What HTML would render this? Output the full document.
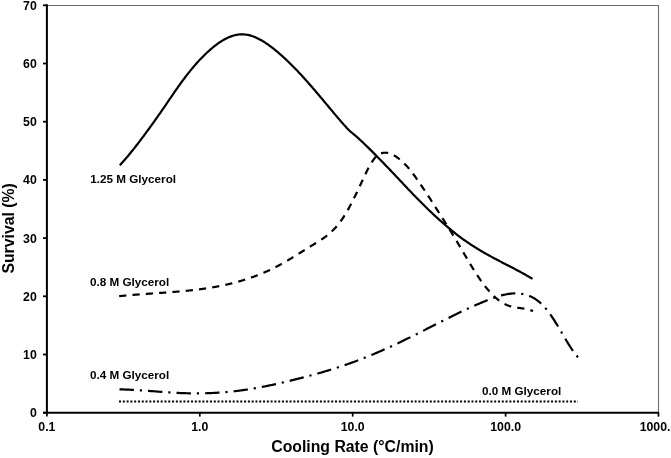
<!DOCTYPE html>
<html><head><meta charset="utf-8"><title>Survival vs Cooling Rate</title>
<style>html,body{margin:0;padding:0;background:#fff;overflow:hidden;width:671px;height:458px}svg{display:block}</style>
</head><body>
<svg width="671" height="458" viewBox="0 0 671 458">
<rect width="671" height="458" fill="#fff"/>
<path d="M46.9,5.5 H658.5 V412.7" fill="none" stroke="#6c6c6c" stroke-width="1.1"/>
<path d="M46.9,4.3 V413.7" stroke="#000" stroke-width="2"/>
<path d="M43,412.7 H659" stroke="#000" stroke-width="2"/>
<path d="M43,412.70 H47" stroke="#000" stroke-width="1.8"/>
<path d="M43,354.50 H47" stroke="#000" stroke-width="1.8"/>
<path d="M43,296.30 H47" stroke="#000" stroke-width="1.8"/>
<path d="M43,238.10 H47" stroke="#000" stroke-width="1.8"/>
<path d="M43,179.90 H47" stroke="#000" stroke-width="1.8"/>
<path d="M43,121.70 H47" stroke="#000" stroke-width="1.8"/>
<path d="M43,63.50 H47" stroke="#000" stroke-width="1.8"/>
<path d="M43,5.30 H47" stroke="#000" stroke-width="1.8"/>
<path d="M46.90,412.7 V416.6" stroke="#000" stroke-width="1.7"/>
<path d="M199.80,412.7 V416.6" stroke="#000" stroke-width="1.7"/>
<path d="M352.70,412.7 V416.6" stroke="#000" stroke-width="1.7"/>
<path d="M505.60,412.7 V416.6" stroke="#000" stroke-width="1.7"/>
<path d="M658.50,412.7 V416.6" stroke="#000" stroke-width="1.7"/>
<text x="36.8" y="417.10" text-anchor="end" font-family="Liberation Sans, Arial, sans-serif" font-weight="bold" font-size="12.3">0</text>
<text x="36.8" y="358.90" text-anchor="end" font-family="Liberation Sans, Arial, sans-serif" font-weight="bold" font-size="12.3">10</text>
<text x="36.8" y="300.70" text-anchor="end" font-family="Liberation Sans, Arial, sans-serif" font-weight="bold" font-size="12.3">20</text>
<text x="36.8" y="242.50" text-anchor="end" font-family="Liberation Sans, Arial, sans-serif" font-weight="bold" font-size="12.3">30</text>
<text x="36.8" y="184.30" text-anchor="end" font-family="Liberation Sans, Arial, sans-serif" font-weight="bold" font-size="12.3">40</text>
<text x="36.8" y="126.10" text-anchor="end" font-family="Liberation Sans, Arial, sans-serif" font-weight="bold" font-size="12.3">50</text>
<text x="36.8" y="67.90" text-anchor="end" font-family="Liberation Sans, Arial, sans-serif" font-weight="bold" font-size="12.3">60</text>
<text x="36.8" y="9.70" text-anchor="end" font-family="Liberation Sans, Arial, sans-serif" font-weight="bold" font-size="12.3">70</text>
<text x="46.90" y="431.2" text-anchor="middle" font-family="Liberation Sans, Arial, sans-serif" font-weight="bold" font-size="12.3">0.1</text>
<text x="199.80" y="431.2" text-anchor="middle" font-family="Liberation Sans, Arial, sans-serif" font-weight="bold" font-size="12.3">1.0</text>
<text x="352.70" y="431.2" text-anchor="middle" font-family="Liberation Sans, Arial, sans-serif" font-weight="bold" font-size="12.3">10.0</text>
<text x="505.60" y="431.2" text-anchor="middle" font-family="Liberation Sans, Arial, sans-serif" font-weight="bold" font-size="12.3">100.0</text>
<text x="658.50" y="431.2" text-anchor="middle" font-family="Liberation Sans, Arial, sans-serif" font-weight="bold" font-size="12.3">1000.0</text>
<text x="352.5" y="452.3" text-anchor="middle" font-family="Liberation Sans, Arial, sans-serif" font-weight="bold" font-size="15.8">Cooling Rate (°C/min)</text>
<text transform="translate(14.3,228.4) rotate(-90)" x="0" y="0" text-anchor="middle" font-family="Liberation Sans, Arial, sans-serif" font-weight="bold" font-size="15.8">Survival (%)</text>
<text x="90.3" y="182.5" font-family="Liberation Sans, Arial, sans-serif" font-weight="bold" font-size="11.7">1.25 M Glycerol</text>
<text x="90.0" y="285.6" font-family="Liberation Sans, Arial, sans-serif" font-weight="bold" font-size="11.7">0.8 M Glycerol</text>
<text x="90.0" y="378.8" font-family="Liberation Sans, Arial, sans-serif" font-weight="bold" font-size="11.7">0.4 M Glycerol</text>
<text x="561.3" y="394.8" text-anchor="end" font-family="Liberation Sans, Arial, sans-serif" font-weight="bold" font-size="11.7">0.0 M Glycerol</text>
<g fill="none" stroke="#000" stroke-width="2.2">
<path d="M119.80,165.30 L120.80,164.21 L121.80,163.10 L122.80,161.97 L123.80,160.84 L124.80,159.69 L125.80,158.53 L126.80,157.36 L127.80,156.17 L128.80,154.97 L129.80,153.76 L130.80,152.54 L131.80,151.31 L132.80,150.07 L133.80,148.82 L134.80,147.56 L135.80,146.28 L136.80,145.00 L137.80,143.71 L138.80,142.41 L139.80,141.10 L140.80,139.78 L141.80,138.46 L142.80,137.13 L143.80,135.78 L144.80,134.44 L145.80,133.08 L146.80,131.72 L147.80,130.35 L148.80,128.98 L149.80,127.60 L150.80,126.21 L151.80,124.82 L152.80,123.43 L153.80,122.03 L154.80,120.62 L155.80,119.21 L156.80,117.80 L157.80,116.38 L158.80,114.96 L159.80,113.53 L160.80,112.09 L161.80,110.65 L162.80,109.21 L163.80,107.76 L164.80,106.30 L165.80,104.84 L166.80,103.38 L167.80,101.91 L168.80,100.44 L169.80,98.97 L170.80,97.50 L171.80,96.03 L172.80,94.57 L173.80,93.11 L174.80,91.65 L175.80,90.20 L176.80,88.77 L177.80,87.34 L178.80,85.92 L179.80,84.52 L180.80,83.13 L181.80,81.76 L182.80,80.40 L183.80,79.06 L184.80,77.73 L185.80,76.42 L186.80,75.12 L187.80,73.84 L188.80,72.58 L189.80,71.33 L190.80,70.10 L191.80,68.89 L192.80,67.69 L193.80,66.51 L194.80,65.35 L195.80,64.20 L196.80,63.07 L197.80,61.96 L198.80,60.87 L199.80,59.79 L200.80,58.74 L201.80,57.70 L202.80,56.68 L203.80,55.68 L204.80,54.69 L205.80,53.73 L206.80,52.78 L207.80,51.85 L208.80,50.94 L209.80,50.06 L210.80,49.19 L211.80,48.34 L212.80,47.51 L213.80,46.70 L214.80,45.91 L215.80,45.14 L216.80,44.39 L217.80,43.67 L218.80,42.96 L219.80,42.28 L220.80,41.63 L221.80,40.99 L222.80,40.39 L223.80,39.80 L224.80,39.25 L225.80,38.72 L226.80,38.22 L227.80,37.74 L228.80,37.30 L229.80,36.88 L230.80,36.49 L231.80,36.13 L232.80,35.81 L233.80,35.51 L234.80,35.25 L235.80,35.01 L236.80,34.82 L237.80,34.65 L238.80,34.52 L239.80,34.42 L240.80,34.36 L241.80,34.34 L242.80,34.35 L243.80,34.40 L244.80,34.48 L245.80,34.60 L246.80,34.75 L247.80,34.93 L248.80,35.15 L249.80,35.40 L250.80,35.67 L251.80,35.98 L252.80,36.32 L253.80,36.69 L254.80,37.08 L255.80,37.50 L256.80,37.95 L257.80,38.42 L258.80,38.92 L259.80,39.45 L260.80,39.99 L261.80,40.56 L262.80,41.16 L263.80,41.77 L264.80,42.40 L265.80,43.06 L266.80,43.73 L267.80,44.42 L268.80,45.13 L269.80,45.86 L270.80,46.61 L271.80,47.36 L272.80,48.14 L273.80,48.93 L274.80,49.73 L275.80,50.55 L276.80,51.37 L277.80,52.21 L278.80,53.07 L279.80,53.93 L280.80,54.81 L281.80,55.69 L282.80,56.59 L283.80,57.50 L284.80,58.42 L285.80,59.36 L286.80,60.30 L287.80,61.25 L288.80,62.21 L289.80,63.19 L290.80,64.17 L291.80,65.17 L292.80,66.17 L293.80,67.18 L294.80,68.20 L295.80,69.23 L296.80,70.27 L297.80,71.32 L298.80,72.38 L299.80,73.45 L300.80,74.52 L301.80,75.60 L302.80,76.69 L303.80,77.79 L304.80,78.90 L305.80,80.01 L306.80,81.13 L307.80,82.26 L308.80,83.40 L309.80,84.54 L310.80,85.68 L311.80,86.84 L312.80,88.00 L313.80,89.16 L314.80,90.33 L315.80,91.50 L316.80,92.68 L317.80,93.86 L318.80,95.05 L319.80,96.24 L320.80,97.43 L321.80,98.62 L322.80,99.81 L323.80,101.01 L324.80,102.21 L325.80,103.40 L326.80,104.60 L327.80,105.80 L328.80,107.00 L329.80,108.19 L330.80,109.39 L331.80,110.58 L332.80,111.78 L333.80,112.97 L334.80,114.15 L335.80,115.34 L336.80,116.52 L337.80,117.70 L338.80,118.87 L339.80,120.04 L340.80,121.20 L341.80,122.35 L342.80,123.50 L343.80,124.62 L344.80,125.73 L345.80,126.82 L346.80,127.89 L347.80,128.93 L348.80,129.95 L349.80,130.93 L350.50,131.60 L351.50,132.41 L352.50,133.24 L353.50,134.07 L354.50,134.92 L355.50,135.78 L356.50,136.66 L357.50,137.54 L358.50,138.44 L359.50,139.34 L360.50,140.26 L361.50,141.18 L362.50,142.12 L363.50,143.06 L364.50,144.01 L365.50,144.97 L366.50,145.94 L367.50,146.91 L368.50,147.89 L369.50,148.88 L370.50,149.87 L371.50,150.86 L372.50,151.86 L373.50,152.87 L374.50,153.88 L375.50,154.89 L376.50,155.91 L377.50,156.92 L378.50,157.94 L379.50,158.97 L380.50,159.99 L381.50,161.02 L382.50,162.05 L383.50,163.08 L384.50,164.11 L385.50,165.15 L386.50,166.19 L387.50,167.23 L388.50,168.27 L389.50,169.32 L390.50,170.37 L391.50,171.42 L392.50,172.47 L393.50,173.52 L394.50,174.58 L395.50,175.64 L396.50,176.70 L397.50,177.76 L398.50,178.82 L399.50,179.89 L400.50,180.96 L401.50,182.02 L402.50,183.09 L403.50,184.16 L404.50,185.23 L405.50,186.29 L406.50,187.35 L407.50,188.41 L408.50,189.47 L409.50,190.52 L410.50,191.57 L411.50,192.61 L412.50,193.65 L413.50,194.69 L414.50,195.72 L415.50,196.75 L416.50,197.77 L417.50,198.79 L418.50,199.81 L419.50,200.82 L420.50,201.83 L421.50,202.83 L422.50,203.83 L423.50,204.82 L424.50,205.81 L425.50,206.79 L426.50,207.77 L427.50,208.74 L428.50,209.71 L429.50,210.67 L430.50,211.62 L431.50,212.57 L432.50,213.52 L433.50,214.46 L434.50,215.39 L435.50,216.32 L436.50,217.24 L437.50,218.16 L438.50,219.06 L439.50,219.97 L440.50,220.86 L441.50,221.75 L442.50,222.64 L443.50,223.52 L444.50,224.39 L445.50,225.25 L446.50,226.11 L447.50,226.96 L448.50,227.80 L449.50,228.63 L450.50,229.46 L451.50,230.28 L452.50,231.10 L453.50,231.90 L454.50,232.70 L455.50,233.49 L456.50,234.27 L457.50,235.05 L458.50,235.82 L459.50,236.57 L460.50,237.32 L461.50,238.07 L462.50,238.80 L463.50,239.53 L464.50,240.24 L465.50,240.95 L466.50,241.65 L467.50,242.34 L468.50,243.03 L469.50,243.70 L470.50,244.36 L471.50,245.02 L472.50,245.66 L473.50,246.30 L474.50,246.93 L475.10,247.30 L476.10,247.93 L477.10,248.55 L478.10,249.16 L479.10,249.77 L480.10,250.37 L481.10,250.96 L482.10,251.55 L483.10,252.13 L484.10,252.71 L485.10,253.28 L486.10,253.84 L487.10,254.40 L488.10,254.96 L489.10,255.51 L490.10,256.06 L491.10,256.60 L492.10,257.14 L493.10,257.68 L494.10,258.21 L495.10,258.74 L496.10,259.27 L497.10,259.80 L498.10,260.32 L499.10,260.84 L500.10,261.36 L501.10,261.88 L502.10,262.40 L503.10,262.92 L504.10,263.43 L505.10,263.95 L506.10,264.46 L507.10,264.98 L508.10,265.50 L509.10,266.01 L510.10,266.53 L511.10,267.05 L512.10,267.57 L513.10,268.09 L514.10,268.62 L515.10,269.14 L516.10,269.67 L517.10,270.20 L518.10,270.74 L519.10,271.27 L520.10,271.81 L521.10,272.36 L522.10,272.90 L523.10,273.46 L524.10,274.01 L525.10,274.57 L526.10,275.14 L527.10,275.71 L528.10,276.29 L529.10,276.87 L530.10,277.46 L531.10,278.05 L532.10,278.65 L532.50,278.89"/>
<path d="M119.20,296.18 L119.70,296.12 L120.20,296.07 L120.70,296.02 L121.20,295.97 L121.70,295.92 L122.20,295.87 L122.70,295.82 L123.20,295.77 L123.70,295.72 L124.20,295.67 L124.70,295.62 L125.20,295.58 L125.70,295.53 L126.20,295.48 L126.70,295.44 L127.20,295.39 L127.70,295.35 L128.20,295.30 L128.70,295.26 L129.20,295.21 L129.70,295.17 L130.20,295.13 L130.70,295.08 L131.20,295.04 L131.70,295.00 L132.20,294.96 L132.70,294.91 L133.20,294.87 L133.70,294.83 L134.20,294.79 L134.70,294.75 L135.20,294.71 L135.70,294.67 L136.20,294.63 L136.70,294.59 L137.20,294.55 L137.70,294.52 L138.20,294.48 L138.70,294.44 L139.20,294.40 L139.70,294.36 L140.20,294.33 L140.70,294.29 L141.20,294.25 L141.70,294.22 L142.20,294.18 L142.70,294.14 L143.20,294.11 L143.70,294.07 L144.20,294.03 L144.70,294.00 L145.20,293.96 L145.70,293.93 L146.20,293.89 L146.70,293.86 L147.20,293.82 L147.70,293.79 L148.20,293.75 L148.70,293.72 L149.20,293.68 L149.70,293.65 L150.20,293.61 L150.70,293.58 L151.20,293.54 L151.70,293.51 L152.20,293.48 L152.70,293.44 L153.20,293.41 L153.70,293.37 L154.20,293.34 L154.70,293.31 L155.20,293.27 L155.70,293.24 L156.20,293.20 L156.70,293.17 L157.20,293.13 L157.70,293.10 L158.20,293.07 L158.70,293.03 L159.20,293.00 L159.70,292.96 L160.20,292.93 L160.70,292.89 L161.20,292.86 L161.70,292.82 L162.20,292.79 L162.70,292.75 L163.20,292.72 L163.70,292.68 L164.20,292.65 L164.70,292.61 L165.20,292.57 L165.70,292.54 L166.20,292.50 L166.70,292.47 L167.20,292.43 L167.70,292.39 L168.20,292.36 L168.70,292.32 L169.20,292.28 L169.70,292.24 L170.20,292.21 L170.70,292.17 L171.20,292.13 L171.70,292.09 L172.20,292.05 L172.70,292.01 L173.20,291.97 L173.70,291.93 L174.20,291.89 L174.70,291.85 L175.20,291.81 L175.70,291.77 L176.20,291.73 L176.70,291.69 L177.20,291.65 L177.70,291.61 L178.20,291.56 L178.70,291.52 L179.20,291.48 L179.70,291.43 L180.20,291.39 L180.70,291.34 L181.20,291.30 L181.70,291.25 L182.20,291.21 L182.70,291.16 L183.20,291.12 L183.70,291.07 L184.20,291.02 L184.70,290.97 L185.20,290.93 L185.70,290.88 L186.20,290.83 L186.70,290.78 L187.20,290.73 L187.70,290.68 L188.20,290.63 L188.70,290.58 L189.20,290.52 L189.70,290.47 L190.20,290.42 L190.70,290.36 L191.20,290.31 L191.70,290.25 L192.20,290.20 L192.70,290.14 L193.20,290.09 L193.70,290.03 L194.20,289.97 L194.70,289.91 L195.20,289.85 L195.70,289.79 L196.20,289.73 L196.70,289.67 L197.20,289.61 L197.70,289.55 L198.20,289.49 L198.70,289.42 L199.20,289.36 L199.70,289.29 L200.20,289.23 L200.70,289.16 L201.20,289.10 L201.70,289.03 L202.20,288.96 L202.70,288.89 L203.20,288.82 L203.70,288.75 L204.20,288.68 L204.70,288.61 L205.20,288.53 L205.70,288.46 L206.20,288.39 L206.70,288.31 L207.20,288.24 L207.70,288.16 L208.20,288.08 L208.70,288.00 L209.20,287.92 L209.70,287.84 L210.20,287.76 L210.70,287.68 L211.20,287.60 L211.70,287.52 L212.20,287.43 L212.70,287.35 L213.20,287.26 L213.70,287.17 L214.20,287.09 L214.70,287.00 L215.20,286.91 L215.70,286.82 L216.20,286.73 L216.70,286.63 L217.20,286.54 L217.70,286.45 L218.20,286.35 L218.70,286.26 L219.20,286.16 L219.70,286.06 L220.20,285.96 L220.70,285.86 L221.20,285.76 L221.70,285.66 L222.20,285.55 L222.70,285.45 L223.20,285.35 L223.70,285.24 L224.20,285.13 L224.70,285.02 L225.20,284.91 L225.70,284.80 L226.20,284.69 L226.70,284.58 L227.20,284.47 L227.70,284.35 L228.20,284.24 L228.70,284.12 L229.20,284.00 L229.70,283.88 L230.20,283.76 L230.70,283.64 L231.20,283.52 L231.70,283.39 L232.20,283.27 L232.70,283.14 L233.20,283.01 L233.70,282.89 L234.20,282.76 L234.70,282.63 L235.20,282.49 L235.70,282.36 L236.20,282.23 L236.70,282.09 L237.20,281.95 L237.70,281.81 L238.20,281.67 L238.70,281.53 L239.20,281.39 L239.70,281.25 L240.20,281.10 L240.70,280.96 L241.20,280.81 L241.70,280.66 L242.20,280.51 L242.70,280.36 L243.20,280.21 L243.70,280.05 L244.20,279.90 L244.70,279.74 L245.20,279.58 L245.70,279.42 L246.20,279.26 L246.70,279.10 L247.20,278.94 L247.70,278.77 L248.20,278.61 L248.70,278.44 L249.20,278.27 L249.70,278.10 L250.20,277.93 L250.70,277.75 L251.20,277.58 L251.70,277.40 L252.20,277.22 L252.70,277.04 L253.20,276.86 L253.70,276.68 L254.20,276.50 L254.70,276.31 L255.20,276.12 L255.70,275.94 L256.20,275.75 L256.70,275.55 L257.20,275.36 L257.70,275.17 L258.20,274.97 L258.70,274.77 L259.20,274.57 L259.70,274.37 L260.20,274.17 L260.70,273.97 L261.20,273.76 L261.70,273.55 L262.20,273.34 L262.70,273.13 L263.20,272.92 L263.70,272.71 L264.20,272.49 L264.70,272.27 L265.20,272.06 L265.70,271.84 L266.20,271.61 L266.70,271.39 L267.20,271.16 L267.70,270.94 L268.20,270.71 L268.70,270.48 L269.20,270.24 L269.70,270.01 L270.20,269.77 L270.70,269.54 L271.20,269.30 L271.70,269.06 L272.20,268.81 L272.70,268.57 L273.20,268.32 L273.70,268.07 L274.20,267.82 L274.70,267.57 L275.20,267.32 L275.70,267.06 L276.20,266.80 L276.70,266.55 L277.20,266.28 L277.70,266.02 L278.20,265.76 L278.70,265.49 L279.20,265.22 L279.70,264.95 L280.20,264.68 L280.70,264.40 L281.20,264.13 L281.70,263.85 L282.20,263.57 L282.70,263.29 L283.20,263.01 L283.70,262.73 L284.20,262.44 L284.70,262.16 L285.20,261.87 L285.70,261.58 L286.20,261.29 L286.70,261.00 L287.20,260.70 L287.70,260.41 L288.20,260.11 L288.70,259.82 L289.20,259.52 L289.70,259.22 L290.20,258.92 L290.70,258.62 L291.20,258.32 L291.70,258.01 L292.20,257.71 L292.70,257.41 L293.20,257.10 L293.70,256.80 L294.20,256.49 L294.70,256.18 L295.20,255.87 L295.70,255.57 L296.20,255.26 L296.70,254.95 L297.20,254.64 L297.70,254.33 L298.20,254.02 L298.70,253.70 L299.20,253.39 L299.70,253.08 L300.20,252.77 L300.70,252.46 L301.20,252.14 L301.70,251.83 L302.20,251.52 L302.70,251.21 L303.20,250.89 L303.70,250.58 L304.20,250.27 L304.70,249.95 L305.20,249.64 L305.70,249.33 L306.20,249.02 L306.70,248.71 L307.20,248.39 L307.70,248.08 L308.20,247.77 L308.70,247.46 L309.20,247.15 L309.70,246.84 L310.20,246.53 L310.70,246.22 L311.20,245.92 L311.70,245.61 L312.20,245.30 L312.70,244.99 L313.20,244.69 L313.70,244.38 L314.20,244.08 L314.70,243.78 L315.20,243.47 L315.70,243.17 L316.20,242.86 L316.70,242.55 L317.20,242.25 L317.70,241.94 L318.20,241.62 L318.70,241.31 L319.20,240.99 L319.70,240.68 L320.20,240.35 L320.70,240.03 L321.20,239.70 L321.70,239.37 L322.20,239.03 L322.70,238.69 L323.20,238.34 L323.70,237.99 L324.20,237.64 L324.70,237.28 L325.20,236.91 L325.70,236.54 L326.20,236.16 L326.70,235.77 L327.20,235.38 L327.70,234.98 L328.20,234.57 L328.70,234.16 L329.20,233.74 L329.70,233.31 L330.20,232.87 L330.70,232.42 L331.20,231.96 L331.70,231.50 L332.20,231.02 L332.70,230.53 L333.20,230.04 L333.70,229.53 L334.20,229.02 L334.70,228.49 L335.20,227.95 L335.70,227.40 L336.20,226.84 L336.70,226.26 L337.20,225.68 L337.70,225.08 L338.20,224.47 L338.70,223.84 L339.20,223.20 L339.70,222.55 L340.20,221.88 L340.70,221.20 L341.20,220.51 L341.70,219.80 L342.20,219.07 L342.70,218.33 L343.20,217.58 L343.70,216.81 L344.20,216.03 L344.70,215.23 L345.20,214.41 L345.70,213.59 L346.20,212.75 L346.70,211.90 L347.20,211.03 L347.70,210.15 L348.20,209.27 L348.70,208.36 L349.20,207.45 L349.70,206.53 L350.20,205.60 L350.70,204.66 L351.20,203.70 L351.70,202.74 L352.20,201.77 L352.70,200.79 L353.20,199.80 L353.70,198.80 L354.20,197.80 L354.70,196.79 L355.20,195.77 L355.70,194.74 L356.20,193.71 L356.70,192.67 L357.20,191.63 L357.70,190.58 L358.20,189.52 L358.70,188.47 L359.20,187.40 L359.70,186.33 L360.20,185.26 L360.70,184.19 L361.20,183.11 L361.70,182.03 L362.20,180.95 L362.70,179.88 L363.20,178.80 L363.70,177.73 L364.20,176.66 L364.70,175.61 L365.20,174.56 L365.70,173.52 L366.20,172.49 L366.70,171.47 L367.20,170.47 L367.70,169.48 L368.20,168.51 L368.70,167.56 L369.20,166.63 L369.70,165.72 L370.20,164.83 L370.70,163.97 L371.20,163.13 L371.70,162.32 L372.20,161.54 L372.70,160.78 L373.20,160.06 L373.70,159.37 L374.20,158.72 L374.70,158.10 L375.20,157.52 L375.70,156.98 L376.20,156.47 L376.70,156.01 L377.20,155.58 L377.70,155.18 L378.20,154.83 L378.70,154.50 L379.20,154.21 L379.70,153.95 L380.20,153.71 L380.70,153.51 L381.20,153.33 L381.70,153.18 L382.20,153.05 L382.70,152.95 L383.20,152.86 L383.70,152.80 L384.20,152.76 L384.70,152.73 L385.20,152.72 L385.70,152.73 L386.20,152.75 L386.70,152.79 L387.20,152.85 L387.70,152.92 L388.20,153.02 L388.70,153.13 L389.20,153.25 L389.70,153.40 L390.20,153.56 L390.70,153.74 L391.20,153.94 L391.70,154.15 L392.20,154.38 L392.70,154.63 L393.20,154.89 L393.70,155.17 L394.20,155.46 L394.70,155.76 L395.20,156.08 L395.70,156.40 L396.20,156.74 L396.70,157.09 L397.20,157.46 L397.70,157.83 L398.20,158.21 L398.70,158.60 L399.20,159.00 L399.70,159.40 L400.20,159.82 L400.70,160.24 L401.20,160.67 L401.70,161.11 L402.20,161.55 L402.70,162.01 L403.20,162.47 L403.70,162.95 L404.20,163.43 L404.70,163.93 L405.20,164.43 L405.70,164.95 L406.20,165.48 L406.70,166.01 L407.20,166.56 L407.70,167.12 L408.20,167.69 L408.70,168.27 L409.20,168.87 L409.70,169.47 L410.20,170.09 L410.70,170.72 L411.20,171.35 L411.70,172.00 L412.20,172.65 L412.70,173.31 L413.20,173.98 L413.70,174.65 L414.20,175.34 L414.70,176.02 L415.20,176.71 L415.70,177.41 L416.20,178.10 L416.70,178.81 L417.20,179.51 L417.70,180.22 L418.20,180.94 L418.70,181.66 L419.20,182.38 L419.70,183.10 L420.20,183.83 L420.70,184.56 L421.20,185.30 L421.70,186.03 L422.20,186.77 L422.70,187.52 L423.20,188.26 L423.70,189.01 L424.20,189.76 L424.70,190.52 L425.20,191.27 L425.70,192.03 L426.20,192.79 L426.70,193.56 L427.20,194.32 L427.70,195.09 L428.20,195.86 L428.70,196.63 L429.20,197.40 L429.70,198.17 L430.20,198.95 L430.70,199.72 L431.20,200.50 L431.70,201.28 L432.20,202.06 L432.70,202.84 L433.20,203.62 L433.70,204.40 L434.20,205.19 L434.70,205.97 L435.20,206.76 L435.70,207.54 L436.20,208.32 L436.70,209.11 L437.20,209.89 L437.70,210.68 L438.20,211.47 L438.70,212.25 L439.20,213.04 L439.70,213.82 L440.20,214.61 L440.70,215.40 L441.20,216.18 L441.70,216.97 L442.20,217.76 L442.70,218.55 L443.20,219.34 L443.70,220.13 L444.20,220.92 L444.70,221.71 L445.20,222.50 L445.70,223.30 L446.20,224.09 L446.70,224.89 L447.20,225.69 L447.70,226.48 L448.20,227.28 L448.70,228.09 L449.20,228.89 L449.70,229.69 L450.20,230.50 L450.70,231.31 L451.20,232.11 L451.70,232.92 L452.20,233.74 L452.70,234.55 L453.20,235.37 L453.70,236.19 L454.20,237.01 L454.70,237.83 L455.20,238.65 L455.70,239.48 L456.20,240.31 L456.70,241.14 L457.20,241.98 L457.70,242.81 L458.20,243.65 L458.70,244.49 L459.20,245.34 L459.70,246.18 L460.20,247.03 L460.70,247.88 L461.20,248.73 L461.70,249.58 L462.20,250.44 L462.70,251.29 L463.20,252.14 L463.70,253.00 L464.20,253.85 L464.70,254.71 L465.20,255.56 L465.70,256.41 L466.20,257.26 L466.70,258.11 L467.20,258.96 L467.70,259.81 L468.20,260.65 L468.70,261.49 L469.20,262.33 L469.70,263.17 L470.20,264.00 L470.70,264.83 L471.20,265.66 L471.70,266.48 L472.20,267.30 L472.70,268.12 L473.20,268.92 L473.70,269.73 L474.20,270.53 L474.70,271.32 L475.20,272.11 L475.70,272.89 L476.20,273.67 L476.70,274.44 L477.20,275.21 L477.70,275.96 L478.20,276.71 L478.70,277.45 L479.20,278.19 L479.70,278.92 L480.20,279.63 L480.70,280.35 L481.20,281.05 L481.70,281.74 L482.20,282.43 L482.70,283.11 L483.20,283.78 L483.70,284.44 L484.20,285.10 L484.70,285.74 L485.20,286.38 L485.70,287.01 L486.20,287.63 L486.70,288.24 L487.20,288.84 L487.70,289.43 L488.20,290.02 L488.70,290.59 L489.20,291.16 L489.70,291.72 L490.20,292.27 L490.70,292.81 L491.20,293.34 L491.70,293.86 L492.20,294.37 L492.70,294.88 L493.20,295.37 L493.70,295.86 L494.20,296.33 L494.70,296.80 L495.20,297.25 L495.70,297.70 L496.20,298.14 L496.70,298.56 L497.20,298.98 L497.70,299.39 L498.20,299.79 L498.70,300.18 L499.20,300.55 L499.70,300.92 L500.20,301.28 L500.70,301.63 L501.20,301.96 L501.70,302.29 L502.20,302.61 L502.70,302.91 L503.20,303.21 L503.70,303.50 L504.20,303.77 L504.70,304.04 L505.20,304.29 L505.70,304.53 L506.20,304.77 L506.70,304.99 L507.20,305.20 L507.70,305.40 L508.20,305.59 L508.70,305.77 L509.20,305.94 L509.70,306.10 L510.20,306.25 L510.70,306.39 L511.20,306.53 L511.70,306.65 L512.20,306.77 L512.70,306.89 L513.20,306.99 L513.70,307.10 L514.20,307.19 L514.70,307.28 L515.20,307.37 L515.70,307.45 L516.20,307.53 L516.70,307.61 L517.20,307.68 L517.70,307.75 L518.20,307.82 L518.70,307.89 L519.20,307.95 L519.70,308.02 L520.20,308.09 L520.70,308.15 L521.20,308.22 L521.70,308.29 L522.20,308.36 L522.70,308.43 L523.20,308.50 L523.70,308.58 L524.20,308.66 L524.70,308.75 L525.20,308.84 L525.70,308.93 L526.20,309.03 L526.70,309.14 L527.20,309.25 L527.70,309.37 L528.20,309.49 L528.70,309.62 L529.20,309.76 L529.70,309.91 L530.20,310.07 L530.70,310.24 L531.20,310.41 L531.70,310.60 L532.20,310.80 L532.70,311.00 L533.00,311.13" stroke-dasharray="7.2 6.15"/>
<path d="M119.50,389.36 L120.50,389.38 L121.50,389.41 L122.50,389.43 L123.50,389.46 L124.50,389.50 L125.50,389.53 L126.50,389.57 L127.50,389.61 L128.50,389.65 L129.50,389.70 L130.50,389.75 L131.50,389.80 L132.50,389.85 L133.50,389.90 L134.50,389.96 L135.50,390.02 L136.50,390.08 L137.50,390.14 L138.50,390.20 L139.50,390.27 L140.50,390.33 L141.50,390.40 L142.50,390.47 L143.50,390.54 L144.50,390.61 L145.50,390.68 L146.50,390.75 L147.50,390.82 L148.50,390.90 L149.50,390.97 L150.50,391.05 L151.50,391.12 L152.50,391.20 L153.50,391.27 L154.50,391.35 L155.50,391.43 L156.50,391.50 L157.50,391.58 L158.50,391.65 L159.50,391.73 L160.50,391.80 L161.50,391.87 L162.50,391.95 L163.50,392.02 L164.50,392.09 L165.50,392.16 L166.50,392.23 L167.50,392.30 L168.50,392.36 L169.50,392.43 L170.50,392.49 L171.50,392.56 L172.50,392.62 L173.50,392.68 L174.50,392.73 L175.50,392.79 L176.50,392.84 L177.50,392.89 L178.50,392.94 L179.50,392.99 L180.50,393.04 L181.50,393.08 L182.50,393.12 L183.50,393.15 L184.50,393.19 L185.50,393.22 L186.50,393.25 L187.50,393.27 L188.50,393.30 L189.50,393.32 L190.50,393.33 L191.50,393.35 L192.50,393.36 L193.50,393.37 L194.50,393.38 L195.50,393.38 L196.50,393.38 L197.50,393.38 L198.50,393.37 L199.50,393.36 L200.50,393.35 L201.50,393.34 L202.50,393.32 L203.50,393.30 L204.50,393.28 L205.50,393.25 L206.50,393.23 L207.50,393.19 L208.50,393.16 L209.50,393.12 L210.50,393.08 L211.50,393.04 L212.50,392.99 L213.50,392.94 L214.50,392.89 L215.50,392.84 L216.50,392.78 L217.50,392.72 L218.50,392.66 L219.50,392.59 L220.50,392.52 L221.50,392.45 L222.50,392.37 L223.50,392.29 L224.50,392.21 L225.50,392.12 L226.50,392.04 L227.50,391.94 L228.50,391.85 L229.50,391.75 L230.50,391.65 L231.50,391.55 L232.50,391.44 L233.50,391.33 L234.50,391.22 L235.50,391.10 L236.50,390.98 L237.50,390.86 L238.50,390.74 L239.50,390.61 L240.50,390.48 L241.50,390.34 L242.50,390.20 L243.50,390.06 L244.50,389.92 L245.50,389.77 L246.50,389.62 L247.50,389.47 L248.50,389.31 L249.50,389.16 L250.50,388.99 L251.50,388.83 L252.50,388.66 L253.50,388.49 L254.50,388.32 L255.50,388.14 L256.50,387.97 L257.50,387.79 L258.50,387.60 L259.50,387.42 L260.50,387.23 L261.50,387.04 L262.50,386.85 L263.50,386.65 L264.50,386.46 L265.50,386.26 L266.50,386.05 L267.50,385.85 L268.50,385.64 L269.50,385.44 L270.50,385.23 L271.50,385.01 L272.50,384.80 L273.50,384.58 L274.50,384.36 L275.50,384.14 L276.50,383.92 L277.50,383.70 L278.50,383.47 L279.50,383.25 L280.50,383.02 L281.50,382.79 L282.50,382.55 L283.50,382.32 L284.50,382.08 L285.50,381.85 L286.50,381.61 L287.50,381.37 L288.50,381.13 L289.50,380.89 L290.50,380.64 L291.50,380.40 L292.50,380.15 L293.50,379.90 L294.50,379.65 L295.50,379.40 L296.50,379.15 L297.50,378.90 L298.50,378.65 L299.50,378.39 L300.50,378.14 L301.50,377.88 L302.50,377.62 L303.50,377.36 L304.50,377.10 L305.50,376.84 L306.50,376.57 L307.50,376.31 L308.50,376.04 L309.50,375.78 L310.50,375.51 L311.50,375.24 L312.50,374.96 L313.50,374.69 L314.50,374.41 L315.50,374.14 L316.50,373.86 L317.50,373.58 L318.50,373.29 L319.50,373.01 L320.50,372.72 L321.50,372.44 L322.50,372.15 L323.50,371.85 L324.50,371.56 L325.50,371.26 L326.50,370.97 L327.50,370.67 L328.50,370.37 L329.50,370.06 L330.50,369.75 L331.50,369.45 L332.50,369.14 L333.50,368.82 L334.50,368.51 L335.50,368.19 L336.50,367.87 L337.50,367.55 L338.50,367.22 L339.50,366.89 L340.50,366.56 L341.50,366.23 L342.50,365.90 L343.50,365.56 L344.50,365.22 L345.50,364.87 L346.50,364.53 L347.50,364.18 L348.50,363.83 L349.50,363.47 L350.50,363.12 L351.50,362.76 L352.50,362.39 L353.50,362.03 L354.50,361.66 L355.50,361.29 L356.50,360.91 L357.50,360.54 L358.50,360.16 L359.50,359.77 L360.50,359.39 L361.50,359.00 L362.50,358.61 L363.50,358.22 L364.50,357.82 L365.50,357.42 L366.50,357.02 L367.50,356.62 L368.50,356.21 L369.50,355.80 L370.50,355.39 L371.50,354.98 L372.50,354.56 L373.50,354.14 L374.50,353.72 L375.50,353.29 L376.50,352.87 L377.50,352.44 L378.50,352.01 L379.50,351.58 L380.50,351.14 L381.50,350.70 L382.50,350.26 L383.50,349.82 L384.50,349.38 L385.50,348.93 L386.50,348.48 L387.50,348.03 L388.50,347.58 L389.50,347.13 L390.50,346.67 L391.50,346.21 L392.50,345.75 L393.50,345.29 L394.50,344.82 L395.50,344.36 L396.50,343.89 L397.50,343.42 L398.50,342.94 L399.50,342.47 L400.50,341.99 L401.50,341.52 L402.50,341.04 L403.50,340.56 L404.50,340.07 L405.50,339.59 L406.50,339.10 L407.50,338.61 L408.50,338.12 L409.50,337.63 L410.50,337.14 L411.50,336.65 L412.50,336.15 L413.50,335.65 L414.50,335.16 L415.50,334.66 L416.50,334.16 L417.50,333.65 L418.50,333.15 L419.50,332.65 L420.50,332.14 L421.50,331.64 L422.50,331.13 L423.50,330.62 L424.50,330.11 L425.50,329.61 L426.50,329.10 L427.50,328.59 L428.50,328.08 L429.50,327.57 L430.50,327.06 L431.50,326.55 L432.50,326.04 L433.50,325.53 L434.50,325.02 L435.50,324.51 L436.50,324.00 L437.50,323.50 L438.50,322.99 L439.50,322.48 L440.50,321.97 L441.50,321.47 L442.50,320.96 L443.50,320.46 L444.50,319.95 L445.50,319.45 L446.50,318.95 L447.50,318.45 L448.50,317.95 L449.50,317.45 L450.50,316.95 L451.50,316.46 L452.50,315.97 L453.50,315.47 L454.50,314.98 L455.50,314.49 L456.50,314.01 L457.50,313.52 L458.50,313.04 L459.50,312.56 L460.50,312.08 L461.50,311.60 L462.50,311.13 L463.50,310.65 L464.50,310.18 L465.50,309.72 L466.50,309.25 L467.50,308.79 L468.50,308.33 L469.50,307.87 L470.50,307.42 L471.50,306.97 L472.50,306.52 L473.50,306.07 L474.50,305.63 L475.50,305.19 L476.50,304.76 L477.50,304.32 L478.50,303.89 L479.50,303.47 L480.50,303.05 L481.50,302.63 L482.50,302.21 L483.50,301.80 L484.50,301.40 L485.50,300.99 L486.50,300.60 L487.50,300.20 L488.50,299.81 L489.50,299.43 L490.50,299.05 L491.50,298.67 L492.50,298.31 L493.50,297.95 L494.50,297.60 L495.50,297.25 L496.50,296.92 L497.50,296.60 L498.50,296.29 L499.50,295.99 L500.50,295.70 L501.50,295.43 L502.50,295.17 L503.50,294.93 L504.50,294.70 L505.50,294.48 L506.50,294.29 L507.50,294.11 L508.50,293.95 L509.50,293.80 L510.50,293.68 L511.50,293.58 L512.50,293.49 L513.50,293.43 L514.50,293.39 L515.50,293.38 L516.50,293.38 L517.50,293.42 L518.50,293.47 L519.50,293.55 L520.50,293.66 L521.50,293.80 L522.50,293.96 L523.50,294.15 L524.50,294.37 L525.50,294.63 L526.50,294.91 L527.50,295.23 L528.50,295.58 L529.50,295.97 L530.50,296.40 L531.50,296.86 L532.50,297.37 L533.50,297.91 L534.50,298.50 L535.50,299.14 L536.50,299.81 L537.50,300.54 L538.50,301.31 L539.50,302.13 L540.50,303.00 L541.50,303.93 L542.50,304.90 L543.50,305.93 L544.50,307.02 L545.50,308.16 L546.50,309.36 L547.50,310.61 L548.50,311.92 L549.50,313.28 L550.50,314.68 L551.50,316.13 L552.50,317.62 L553.50,319.14 L554.50,320.70 L555.50,322.29 L556.50,323.90 L557.50,325.54 L558.50,327.20 L559.50,328.87 L560.50,330.56 L561.50,332.27 L562.50,333.97 L563.50,335.68 L564.50,337.39 L565.50,339.09 L566.50,340.77 L567.50,342.43 L568.50,344.07 L569.50,345.67 L570.50,347.23 L571.50,348.75 L572.50,350.23 L573.50,351.64 L574.50,353.00 L575.50,354.29 L576.50,355.51 L577.50,356.65 L578.50,357.70" stroke-dasharray="14.4 5.93 2.2 6.04"/>
<path d="M119,401.5 H578" stroke-dasharray="2 1.79"/>
</g>
</svg>
</body></html>
